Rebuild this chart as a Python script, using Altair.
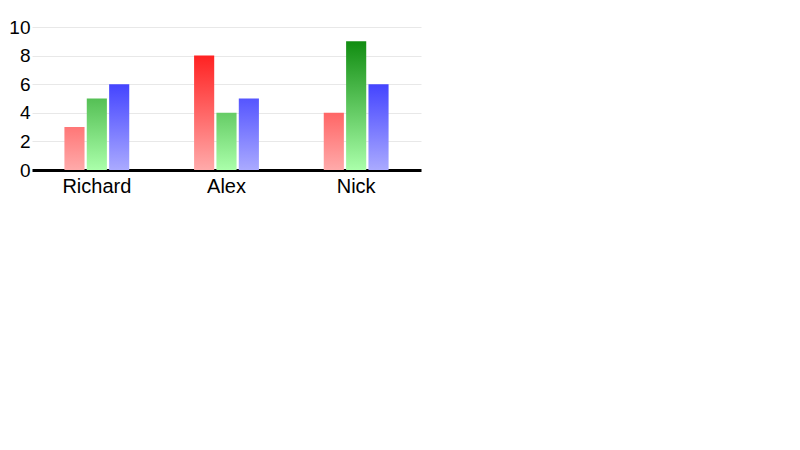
import altair as alt
import pandas as pd

names = ["Richard", "Alex", "Nick"]
series = ["A", "B", "C"]
values_a = [3, 8, 4]
values_b = [5, 4, 9]
values_c = [6, 5, 6]
light_colors = ["#ffaaaa", "#aaffaa", "#aaaaff"]
dark_colors = ["#ff0000", "#008000", "#0000ff"]
y_ticks = [0, 2, 4, 6, 8, 10]
y_max = 10

all_values = [values_a, values_b, values_c]
rows = []
for si, s in enumerate(series):
    for ni, n in enumerate(names):
        rows.append({"name": n, "series": s, "value": all_values[si][ni]})
df = pd.DataFrame(rows)

FONT = "Liberation Sans"

x_enc = alt.X("name:N", sort=names,
              scale=alt.Scale(paddingInner=0.5, paddingOuter=0.25),
              axis=alt.Axis(title=None, labelAngle=0, ticks=False, domainColor="black",
                            domainWidth=3, labelFontSize=20, labelColor="black",
                            labelFont=FONT, labelPadding=6, grid=False))
xo_enc = alt.XOffset("series:N", sort=series,
                     scale=alt.Scale(domain=series, paddingInner=0.1, paddingOuter=0))
y_enc = alt.Y("value:Q", scale=alt.Scale(domain=[0, y_max], nice=False),
              axis=alt.Axis(title=None, values=y_ticks, grid=True, gridColor="#e8e8e8",
                            domain=False, ticks=False, labelFontSize=19, labelColor="black",
                            labelFont=FONT, labelPadding=2))

layers = []
for si, s in enumerate(series):
    for ni, n in enumerate(names):
        v = all_values[si][ni]
        grad = alt.Gradient(
            gradient="linear", x1=0, x2=0, y1=1, y2=1 - y_max / v,
            stops=[alt.GradientStop(color=light_colors[si], offset=0),
                   alt.GradientStop(color=dark_colors[si], offset=1)])
        layer = (alt.Chart(df)
                 .transform_filter((alt.datum.series == s) & (alt.datum.name == n))
                 .mark_bar(color=grad, cornerRadius=0)
                 .encode(x=x_enc, xOffset=xo_enc, y=y_enc))
        layers.append(layer)

chart = (alt.layer(*layers)
         .properties(width=389, height=143, background="white",
                     padding={"left": 0, "top": 10, "right": 5, "bottom": 5})
         .configure_view(stroke="transparent", strokeWidth=0))

chart.save("out.html", embed_options={"renderer": "svg", "actions": False})
